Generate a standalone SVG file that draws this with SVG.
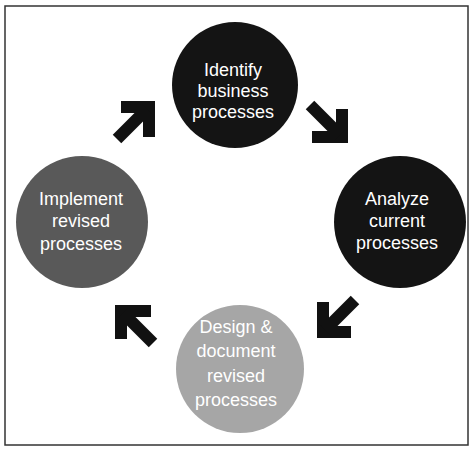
<svg xmlns="http://www.w3.org/2000/svg" width="474" height="450" viewBox="0 0 474 450">
  <style>
    .lbl { font-family: "Liberation Sans", Arial, sans-serif; font-size: 18px; fill: #ffffff; text-anchor: middle; }
    .arrow path { fill: none; stroke: #111111; stroke-width: 12; stroke-linejoin: miter; stroke-linecap: butt; }
  </style>
  <defs>
    <g id="arr" class="arrow">
      <path d="M-34,6 H-6 V36"/>
      <path d="M-8,8 L-38,38"/>
    </g>
  </defs>
  <rect x="5" y="6" width="463" height="439" fill="#ffffff" stroke="#333333" stroke-width="1.5"/>

  <g id="connectors">
    <use href="#arr" transform="translate(155,101)"/>
    <use href="#arr" transform="translate(348,143) rotate(90)"/>
    <use href="#arr" transform="translate(317,338) rotate(180)"/>
    <use href="#arr" transform="translate(115,305) rotate(270)"/>
  </g>

  <g id="identify">
    <circle cx="235" cy="85" r="63" fill="#141414"/>
    <text class="lbl" x="233" y="76">Identify</text>
    <text class="lbl" x="233" y="97">business</text>
    <text class="lbl" x="233" y="118">processes</text>
  </g>
  <g id="analyze">
    <circle cx="400" cy="222" r="66" fill="#141414"/>
    <text class="lbl" x="397" y="205">Analyze</text>
    <text class="lbl" x="397" y="227">current</text>
    <text class="lbl" x="397" y="249">processes</text>
  </g>
  <g id="design">
    <circle cx="240" cy="369" r="64" fill="#a6a6a6"/>
    <text class="lbl" x="236" y="333">Design &amp;</text>
    <text class="lbl" x="236" y="357">document</text>
    <text class="lbl" x="236" y="382">revised</text>
    <text class="lbl" x="236" y="406">processes</text>
  </g>
  <g id="implement">
    <circle cx="82" cy="222" r="66" fill="#595959"/>
    <text class="lbl" x="81" y="205">Implement</text>
    <text class="lbl" x="81" y="227">revised</text>
    <text class="lbl" x="81" y="250">processes</text>
  </g>
</svg>
